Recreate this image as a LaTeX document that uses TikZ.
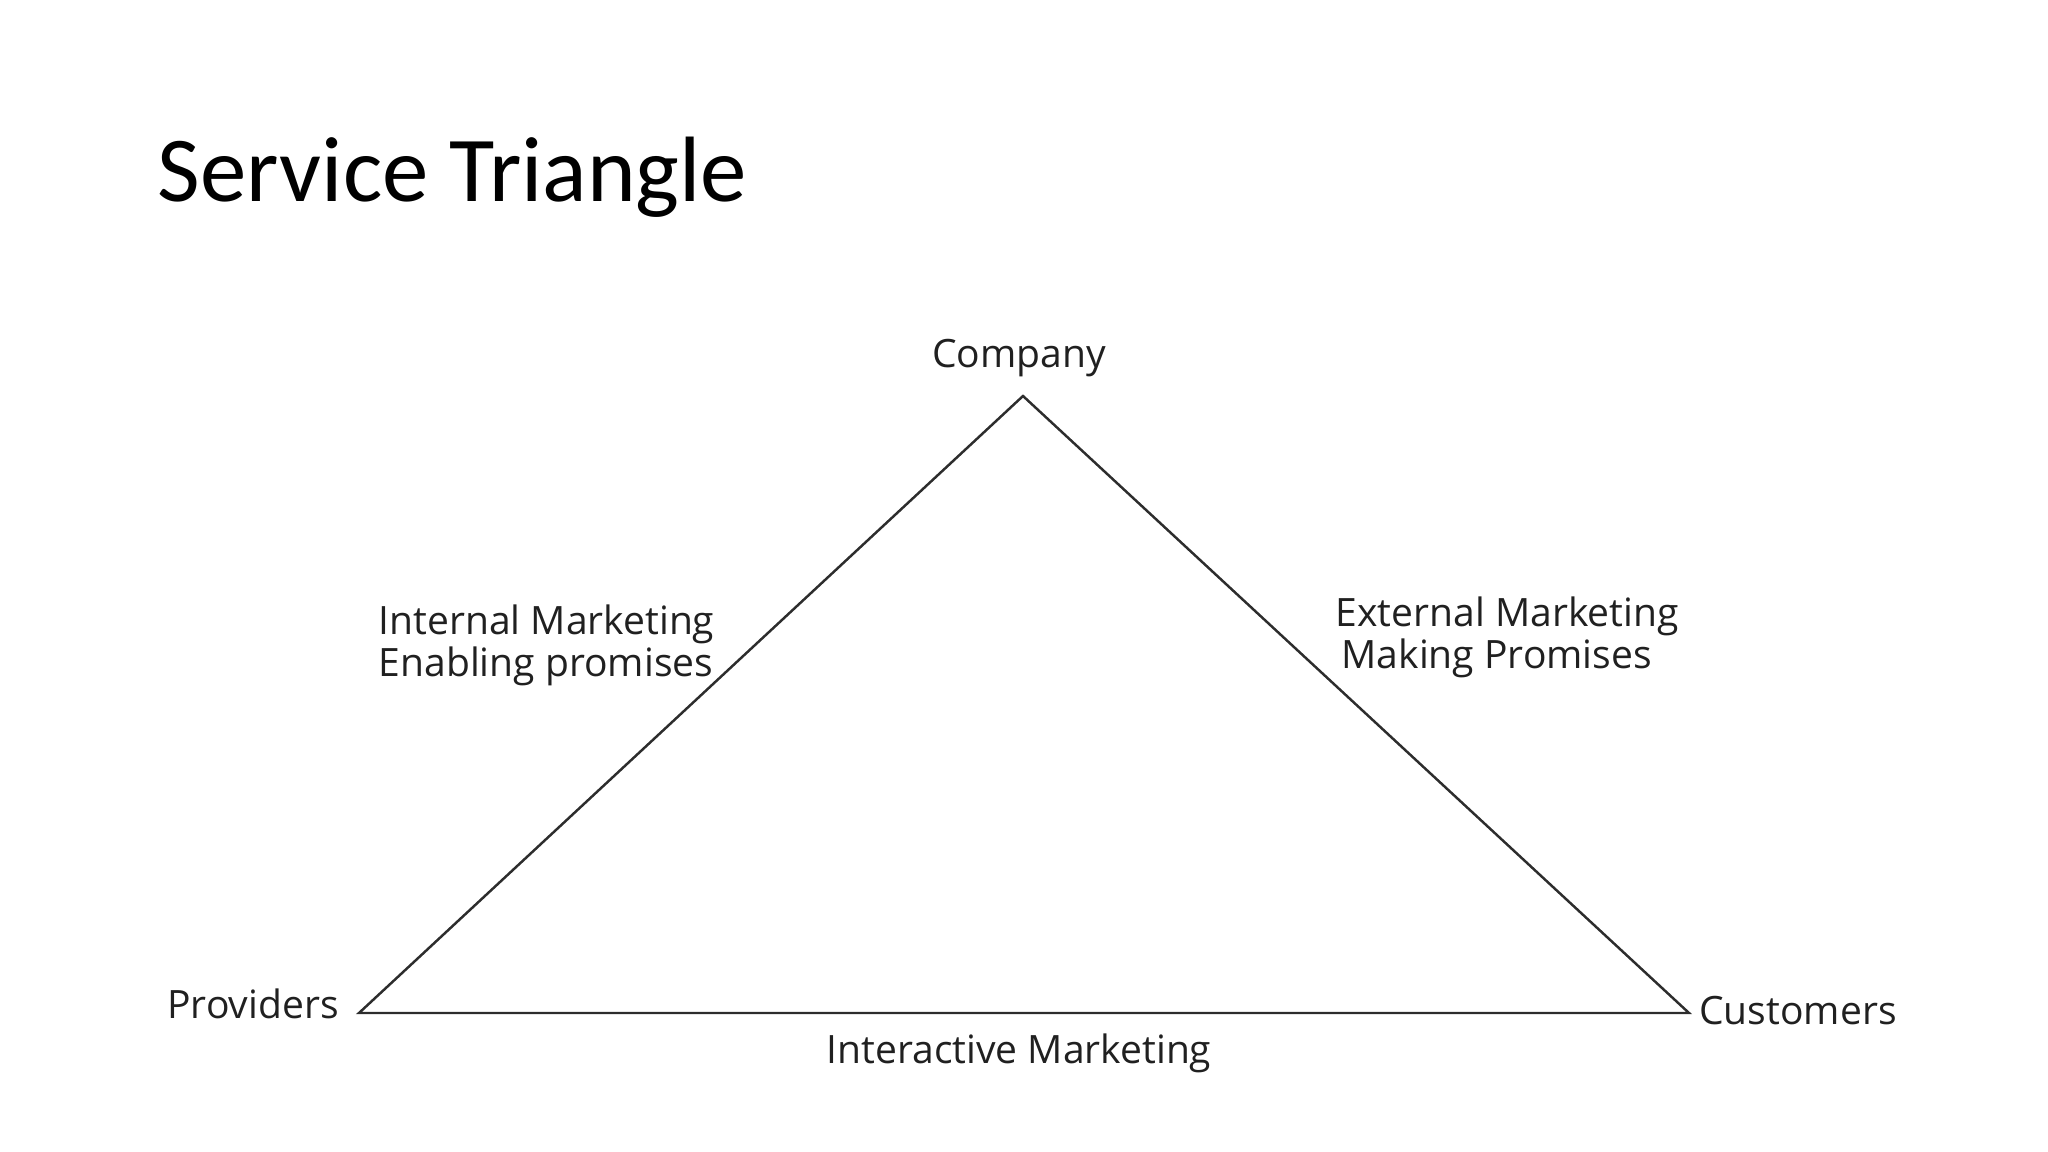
\documentclass[tikz,border=0pt]{standalone}
\usepackage{fontspec}
\setmainfont{Open Sans}
\newfontfamily\titlefont{Carlito}
\usepackage{tikz}
\usetikzlibrary{positioning, calc}
\definecolor{LabelGray}{RGB}{32, 32, 32}
\definecolor{LineGray}{RGB}{45, 45, 45}

\tikzset{
  lbl/.style={text=LabelGray, font=\fontsize{11.1}{12}\selectfont, inner sep=0pt},
  side/.style={lbl, align=left}
}

\begin{document}
\begin{tikzpicture}[x=0.01cm, y=-0.01cm]
    \useasboundingbox (0,0) rectangle (2048,1152);
    % Title
    \node[anchor=base west, inner sep=0pt, font=\titlefont\fontsize{26.4}{31}\selectfont] (title) at (157,202) {Service Triangle};

    % Triangle corners
    \coordinate (apex) at (1023,396);
    \coordinate (prov) at (359,1013);
    \coordinate (cust) at (1689,1013);
    \draw[LineGray, line width=0.7pt, line join=miter] (prov) -- (apex) -- (cust) -- cycle;

    % Corner labels
    \node[lbl] (company) at (1019,358) {Company};
    \node[lbl] (providers) at (253,1004) {Providers};
    \node[lbl] (customers) at (1798,1011) {Customers};

    % Side labels
    \node[side, anchor=west] (internal) at (378,645) {Internal Marketing\\Enabling promises};
    \node[side, anchor=west] (external) at (1335,637) {External Marketing\\\hspace{0.15em}Making Promises};
    \node[lbl] (interactive) at (1019,1053) {Interactive Marketing};
\end{tikzpicture}
\end{document}
